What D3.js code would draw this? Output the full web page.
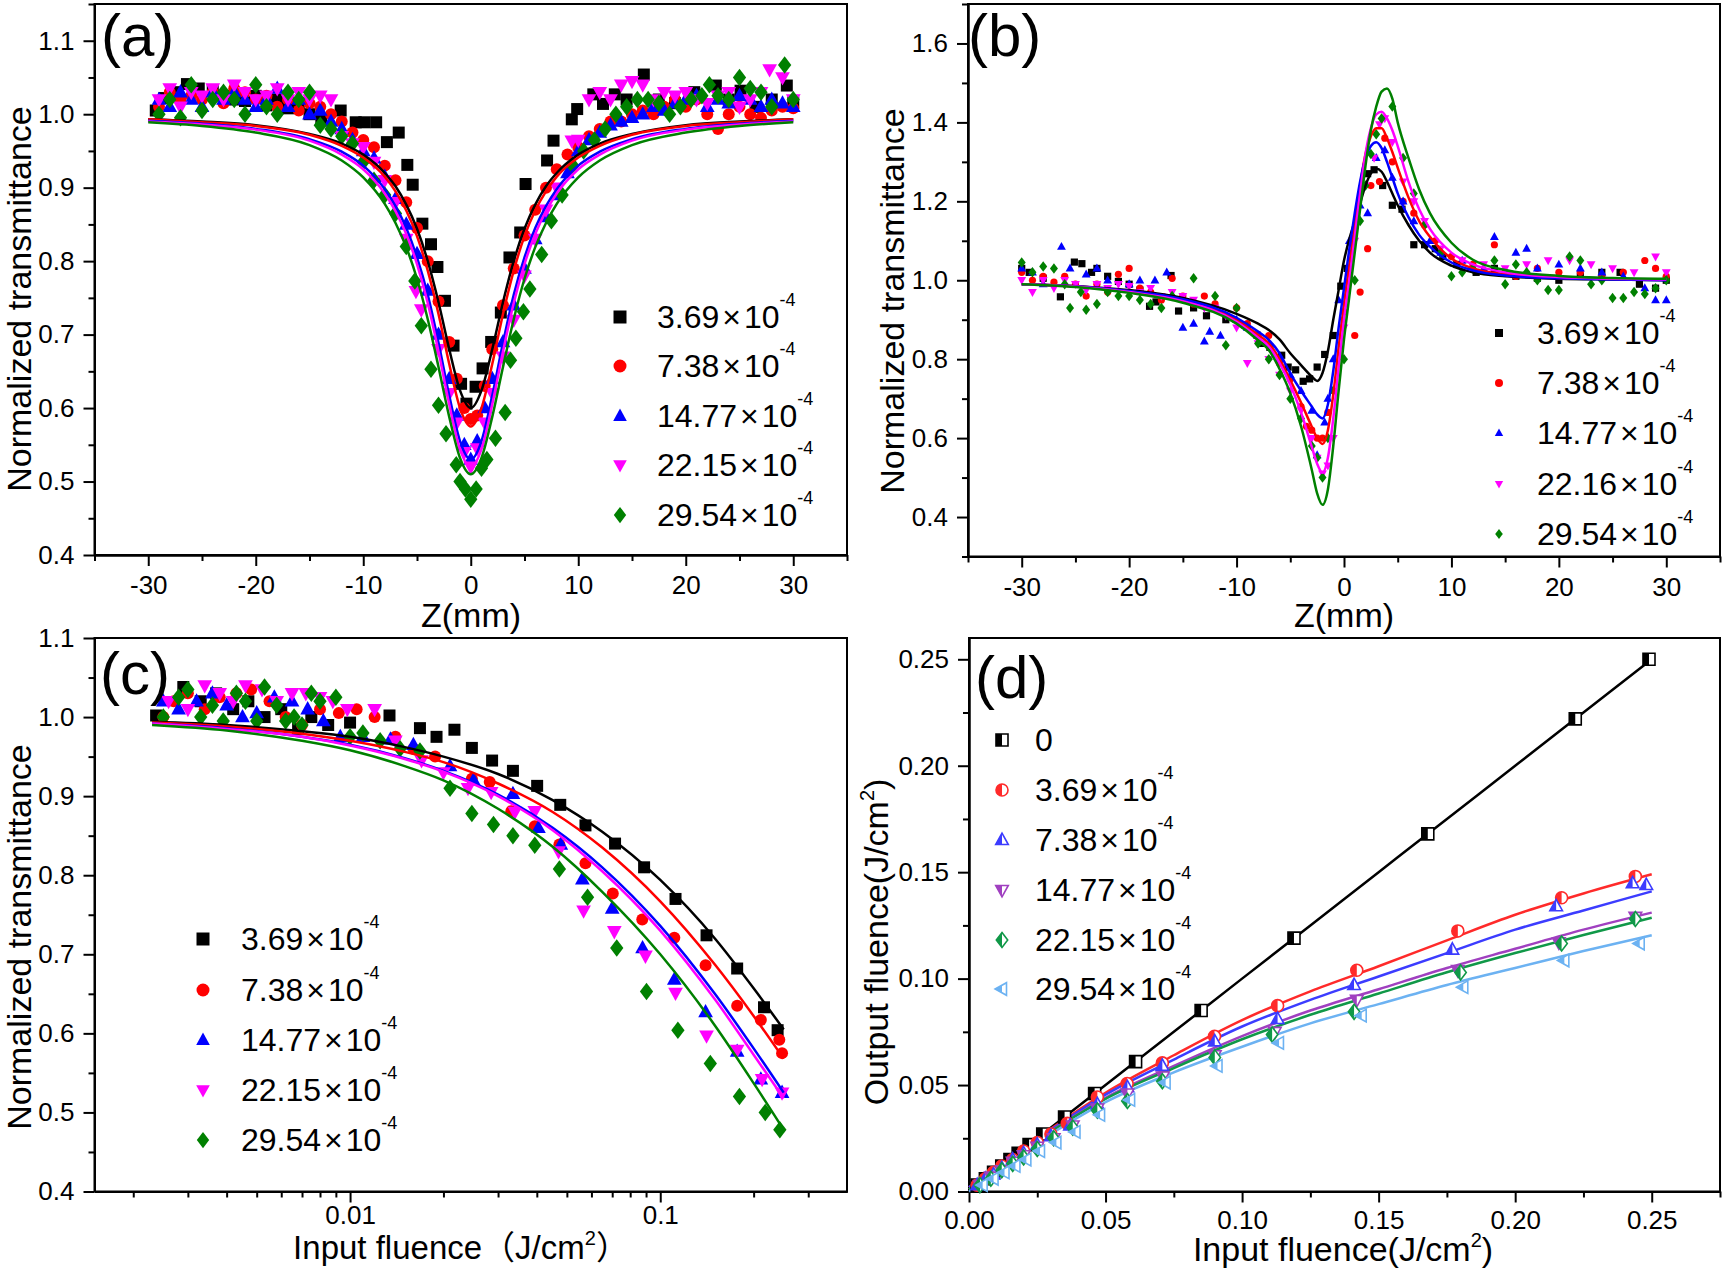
<!DOCTYPE html>
<html><head><meta charset="utf-8">
<script src="https://cdnjs.cloudflare.com/ajax/libs/d3/7.8.5/d3.min.js"></script>
<style>body{margin:0;background:#fff}svg{display:block}</style>
</head><body>
<script>
// ================= DATA =================
const labelsA = ["3.69","7.38","14.77","22.15","29.54"];
const labelsB = ["3.69","7.38","14.77","22.16","29.54"];
const labelsC = ["3.69","7.38","14.77","22.15","29.54"];
const labelsD = ["0","3.69","7.38","14.77","22.15","29.54"];

// Panel (a): open aperture Z-scan, [z(mm), T]
const aBlack = [[-29.3,1.005],[-28.5,1.022],[-27.5,1.03],[-26.4,1.041],[-25.3,1.035],[-24,1.032],[-23,1.025],[-22,1.02],[-21,1.018],[-20,1.025],[-19,1.012],[-18,1.02],[-17,1.008],[-16,1.015],[-15,1.0],[-13.9,0.993],[-12.1,1.005],[-10.7,0.989],[-9.9,0.989],[-8.8,0.989],[-7.8,0.962],[-6.7,0.975],[-5.9,0.931],[-5.4,0.904],[-4.5,0.851],[-3.7,0.823],[-3.1,0.792],[-2.4,0.746],[-1.6,0.685],[-0.9,0.633],[-0.4,0.606],[0.45,0.629],[1.1,0.654],[1.9,0.69],[2.8,0.73],[3.6,0.805],[4.6,0.839],[5.1,0.905],[7.1,0.937],[7.7,0.964],[9.4,0.993],[9.9,1.007],[11.4,1.027],[12.3,1.014],[13.4,1.027],[14.5,1.02],[16.1,1.054],[17.5,1.02],[19,1.015],[20.8,1.03],[22.8,1.039],[24,1.02],[25.1,1.032],[26.5,1.01],[28,1.02],[29.4,1.039],[30,1.016]];
const aRed = [[-29,1.01],[-28,1.03],[-27,1.02],[-26,1.025],[-25,1.02],[-24,1.03],[-23,1.015],[-22,1.035],[-21,1.03],[-20,1.02],[-19,1.025],[-18,1.01],[-17,1.02],[-16,1.005],[-15,1.015],[-14,1.01],[-13,1.0],[-12,0.99],[-11,0.975],[-10,0.965],[-9,0.955],[-8,0.93],[-7,0.91],[-6,0.88],[-5,0.845],[-4,0.8],[-3,0.745],[-2,0.69],[-1.3,0.64],[-0.6,0.6],[0,0.585],[0.6,0.59],[1.3,0.63],[2,0.68],[3,0.74],[4,0.79],[5,0.835],[6,0.87],[7,0.9],[8,0.925],[9,0.945],[10,0.955],[11,0.97],[12,0.98],[13,0.99],[14,0.99],[15,1.0],[16,1.005],[17,1.0],[18,1.01],[19,1.02],[20,1.01],[21,1.02],[22,1.0],[23,0.98],[24,1.0],[25,1.01],[26,1.0],[27,0.995],[28,1.005],[29,1.01],[30,1.008]];
const aBlue = [[-29,1.02],[-28,1.01],[-27,1.03],[-26,1.02],[-25,1.01],[-24,1.03],[-23,1.02],[-22,1.03],[-21,1.02],[-20,1.01],[-19,1.02],[-18,1.035],[-17,1.01],[-16,1.02],[-15,1.0],[-14,1.005],[-13,0.99],[-12,0.98],[-11,0.965],[-10,0.95],[-9,0.94],[-8,0.915],[-7,0.885],[-6,0.85],[-5,0.81],[-4,0.76],[-3,0.7],[-2,0.64],[-1.3,0.59],[-0.6,0.55],[0,0.53],[0.6,0.555],[1.3,0.6],[2,0.64],[3,0.69],[4,0.74],[5,0.79],[6,0.83],[7,0.86],[8,0.89],[9,0.92],[10,0.95],[11,0.965],[12,0.975],[13,0.985],[14,0.99],[15,0.995],[16,1.0],[17,1.01],[18,1.005],[19,1.015],[20,1.02],[21,1.025],[22,1.01],[23,1.02],[24,1.015],[25,1.025],[26,1.02],[27,1.01],[28,1.02],[29,1.015],[30,1.01]];
const aMagenta = [[-29,1.02],[-28,1.035],[-27,1.01],[-26,1.03],[-25,1.025],[-24,1.035],[-23,1.02],[-22,1.04],[-21,1.03],[-20,1.02],[-19,1.025],[-18,1.035],[-17,1.02],[-16,1.03],[-15,1.02],[-14,1.025],[-13,1.02],[-12,0.97],[-11,0.96],[-10,0.955],[-9,0.935],[-8,0.91],[-7,0.88],[-6,0.83],[-5.1,0.759],[-4.6,0.734],[-3,0.68],[-2,0.62],[-1.3,0.58],[-0.6,0.54],[0,0.52],[0.6,0.545],[1.3,0.58],[2,0.62],[3,0.67],[4,0.72],[5,0.78],[6,0.83],[7,0.87],[8,0.9],[9.4,0.964],[10,0.965],[11,1.02],[12,1.03],[13,1.02],[14,1.04],[15,1.045],[16,1.04],[17,1.02],[18,1.03],[19,1.025],[20,1.03],[21,1.02],[22,1.015],[23,1.025],[24,1.03],[25,1.01],[26,1.02],[27,1.03],[27.8,1.061],[29,1.05],[30,1.02]];
const aGreen = [[-29,1.0],[-28,1.02],[-27,0.995],[-26,1.04],[-25,1.005],[-24,1.02],[-23,1.03],[-22,1.02],[-21,1.0],[-20,1.04],[-19,1.01],[-18,1.0],[-17,1.03],[-16,1.02],[-15,1.03],[-14,0.985],[-13,0.98],[-12,0.97],[-11,0.96],[-10,0.935],[-9,0.91],[-8,0.89],[-7,0.865],[-6,0.82],[-5.2,0.773],[-4.6,0.712],[-3.7,0.653],[-3,0.604],[-2.3,0.565],[-1.35,0.523],[-1,0.5],[-0.5,0.49],[0,0.476],[0.5,0.49],[1,0.518],[1.5,0.53],[2.3,0.559],[3.2,0.594],[3.7,0.665],[4.2,0.695],[4.9,0.731],[5.5,0.762],[6.6,0.809],[7.5,0.855],[8.5,0.89],[9.5,0.93],[10.5,0.95],[11.5,0.965],[12.5,0.98],[13.5,1.0],[14.5,1.01],[15.5,1.02],[16.5,1.02],[17.5,1.015],[18.5,1.0],[19.5,1.01],[20.5,1.02],[21.5,1.025],[22.2,1.04],[23,1.025],[24,1.02],[25,1.05],[26,1.035],[27,1.03],[28,1.01],[29.2,1.067],[30,1.02]];
const aFitZ = [-30,-25,-20,-15,-12,-10,-8,-7,-6,-5,-4,-3,-2,-1,0,1,2,3,4,5,6,7,8,10,12,15,20,25,30];
const aFitBlack = [0.993,0.990,0.985,0.973,0.960,0.945,0.920,0.902,0.877,0.844,0.800,0.744,0.680,0.624,0.600,0.624,0.680,0.744,0.800,0.844,0.877,0.902,0.920,0.945,0.960,0.973,0.985,0.990,0.993];
const aFitRed = [0.993,0.989,0.984,0.972,0.957,0.941,0.915,0.895,0.869,0.834,0.787,0.728,0.660,0.600,0.575,0.600,0.660,0.728,0.787,0.834,0.869,0.895,0.915,0.941,0.957,0.972,0.984,0.989,0.993];
const aFitBlue = [0.991,0.987,0.980,0.966,0.949,0.930,0.898,0.875,0.845,0.805,0.754,0.689,0.617,0.555,0.530,0.555,0.617,0.689,0.754,0.805,0.845,0.875,0.898,0.930,0.949,0.966,0.980,0.987,0.991];
const aFitMagenta = [0.990,0.986,0.979,0.964,0.945,0.925,0.892,0.868,0.837,0.796,0.743,0.677,0.605,0.544,0.520,0.544,0.605,0.677,0.743,0.796,0.837,0.868,0.892,0.925,0.945,0.964,0.979,0.986,0.990];
const aFitGreen = [0.989,0.984,0.975,0.958,0.937,0.914,0.878,0.852,0.819,0.776,0.721,0.656,0.588,0.532,0.510,0.532,0.588,0.656,0.721,0.776,0.819,0.852,0.878,0.914,0.937,0.958,0.975,0.984,0.989];

// Panel (b): closed aperture Z-scan, [z(mm), T]
const bBlack = [[-30,1.03],[-29.3,1.02],[-28,1.005],[-26.4,0.958],[-25.1,1.046],[-24.4,1.042],[-23.5,1.02],[-23,1.03],[-22,1.01],[-21,0.997],[-20,0.99],[-19,0.975],[-18.1,0.934],[-17.5,0.945],[-16.1,1.012],[-15.4,0.922],[-14,0.93],[-12.8,0.91],[-11,0.9],[-9.2,0.886],[-8.1,0.861],[-7.6,0.84],[-6.9,0.83],[-5.8,0.81],[-5.2,0.78],[-4.5,0.773],[-3.8,0.744],[-3.2,0.75],[-2.5,0.78],[-1.8,0.812],[-1,0.86],[-0.3,0.985],[0.3,1.03],[2.2,1.27],[2.8,1.28],[3.6,1.24],[4.5,1.19],[5.4,1.18],[6.5,1.09],[7.5,1.09],[8.5,1.08],[9.2,1.06],[10.5,1.04],[12.3,1.02],[14,1.03],[16,1.01],[18,1.005],[20,1.0],[22,1.01],[24,1.02],[25.7,1.02],[27.5,0.99],[29,0.98],[30,1.0]];
const bRed = [[-30,1.02],[-29,1.0],[-28,1.01],[-27,0.995],[-26,1.01],[-25,0.99],[-24,0.96],[-23,0.99],[-22,0.97],[-21,1.015],[-20,1.03],[-19,0.98],[-18,0.97],[-17,0.95],[-16,1.005],[-15,0.96],[-14,0.94],[-13,0.96],[-12,0.94],[-10,0.93],[-9,0.89],[-8,0.86],[-7,0.86],[-6,0.79],[-5,0.75],[-4,0.68],[-3.5,0.63],[-3,0.62],[-2.5,0.6],[-2,0.6],[-1.5,0.665],[-1,0.72],[0,0.92],[1,0.86],[1.5,0.97],[2.2,1.08],[2.5,1.24],[3.3,1.25],[3.8,1.36],[4.5,1.3],[5.5,1.2],[6.5,1.17],[7.5,1.14],[8.5,1.1],[10,1.06],[12,1.04],[14,1.09],[15,1.02],[16,1.01],[18,1.03],[20,1.02],[22,1.02],[24,1.01],[26,1.02],[28,1.05],[29,1.03],[30,1.01]];
const bBlue = [[-30,1.03],[-29,1.02],[-28,0.99],[-26.3,1.085],[-25.5,1.03],[-24,1.015],[-23,1.03],[-22,1.0],[-20,0.99],[-19,1.0],[-17.6,1.0],[-16.5,1.02],[-15,0.88],[-14,0.89],[-13,0.845],[-12.5,0.87],[-11.5,0.86],[-10,0.9],[-9,0.88],[-8,0.86],[-7,0.84],[-6,0.8],[-5,0.76],[-4,0.72],[-3,0.67],[-2.5,0.557],[-1.8,0.64],[-1.5,0.7],[-1,0.8],[-0.5,0.95],[0.5,1.1],[1.5,1.19],[2.2,1.17],[3,1.31],[3.8,1.33],[4.5,1.26],[5.5,1.2],[6.5,1.15],[8,1.1],[9,1.07],[11,1.05],[13,1.03],[14,1.11],[15,1.02],[16,1.07],[17,1.08],[18,1.03],[20,1.04],[22,1.03],[24,1.02],[26,1.01],[28,0.98],[29,0.95],[30,0.95]];
const bMagenta = [[-30,1.0],[-29,0.97],[-28,1.0],[-27,0.98],[-26,1.0],[-25,0.99],[-24,0.975],[-23,0.99],[-22,0.98],[-21,0.99],[-20,0.985],[-19,0.97],[-18,0.98],[-17,0.96],[-16,0.97],[-15,0.96],[-14,0.95],[-13,0.93],[-12,0.93],[-11,0.91],[-10,0.88],[-9,0.79],[-8,0.84],[-7,0.8],[-6,0.76],[-5,0.72],[-4,0.67],[-3,0.6],[-2.5,0.55],[-2,0.51],[-1.5,0.53],[-1,0.6],[0,0.88],[1,1.1],[2,1.24],[2.8,1.31],[3.3,1.395],[3.8,1.41],[4.5,1.35],[5.5,1.25],[6.5,1.2],[7.5,1.15],[9,1.08],[11,1.05],[13,1.04],[15,1.03],[17,1.04],[19,1.05],[21,1.05],[23,1.04],[25,1.03],[27,1.02],[29,1.06],[30,1.02]];
const bGreen = [[-30,1.045],[-29,1.02],[-28,1.035],[-27,1.03],[-26,0.99],[-25.5,0.93],[-24.5,0.97],[-24,0.925],[-23,0.94],[-22,0.97],[-21,0.96],[-20,0.96],[-19,0.95],[-18,0.94],[-17,0.93],[-16,0.96],[-14,1.005],[-12,0.96],[-11,0.835],[-10,0.93],[-9,0.88],[-8,0.84],[-7,0.8],[-6,0.76],[-5,0.7],[-4,0.65],[-3,0.58],[-2.5,0.55],[-2,0.5],[-1.5,0.6],[-1,0.72],[0,0.8],[1,1.0],[1.5,1.15],[2,1.24],[2.5,1.32],[3,1.37],[3.5,1.41],[4.5,1.44],[5.5,1.31],[6.5,1.22],[7.5,1.14],[9,1.07],[10,1.01],[11,1.02],[12,1.03],[14,1.05],[15,0.99],[16,1.04],[17,1.02],[18,1.0],[19,0.975],[20,0.975],[21,1.06],[22,1.05],[23,0.99],[24,1.0],[25,0.955],[26,0.955],[27,0.97],[28,0.965],[29,0.98],[30,1.0]];
const bFitZ = [-30,-25,-20,-15,-10,-8,-7,-6,-5,-4,-3,-2.5,-2,-1.5,-1,-0.5,0,0.5,1,1.5,2,2.5,3,3.5,4,4.5,5,6,7,8,10,12,15,20,25,30];
const bFitBlack = [0.990,0.985,0.975,0.955,0.915,0.890,0.874,0.850,0.815,0.785,0.756,0.745,0.765,0.820,0.900,0.975,1.050,1.105,1.150,1.195,1.240,1.270,1.283,1.275,1.250,1.220,1.190,1.140,1.100,1.070,1.037,1.020,1.010,1.004,1.002,1.000];
const bFitRed = [0.990,0.985,0.972,0.950,0.900,0.862,0.840,0.800,0.747,0.690,0.629,0.600,0.585,0.620,0.710,0.830,0.940,1.040,1.140,1.240,1.320,1.365,1.385,1.385,1.360,1.325,1.285,1.210,1.150,1.110,1.055,1.030,1.015,1.006,1.003,1.001];
const bFitBlue = [0.990,0.985,0.973,0.952,0.905,0.870,0.849,0.815,0.764,0.720,0.680,0.660,0.650,0.685,0.770,0.880,0.980,1.080,1.170,1.250,1.310,1.340,1.350,1.335,1.300,1.260,1.220,1.160,1.115,1.085,1.045,1.025,1.012,1.005,1.002,1.000];
const bFitMagenta = [0.990,0.984,0.970,0.947,0.895,0.855,0.832,0.790,0.735,0.665,0.578,0.535,0.512,0.550,0.650,0.780,0.900,1.000,1.110,1.220,1.320,1.385,1.420,1.427,1.410,1.380,1.340,1.250,1.180,1.130,1.070,1.040,1.020,1.008,1.004,1.002];
const bFitGreen = [0.990,0.983,0.968,0.943,0.890,0.848,0.823,0.775,0.714,0.630,0.520,0.460,0.431,0.470,0.580,0.720,0.850,0.960,1.070,1.180,1.290,1.380,1.440,1.478,1.486,1.460,1.400,1.310,1.230,1.170,1.095,1.052,1.026,1.011,1.006,1.004];

// Panel (c): T vs input fluence (J/cm2), [F, T]
const cBlack = [[0.00237,1.002],[0.0029,1.038],[0.0033,1.02],[0.0037,1.03],[0.0042,1.01],[0.0047,1.02],[0.0053,1.0],[0.006,1.01],[0.0068,0.985],[0.0075,1.0],[0.0085,0.99],[0.01,0.993],[0.0134,1.002],[0.0168,0.986],[0.019,0.975],[0.0217,0.984],[0.0247,0.961],[0.0287,0.945],[0.0335,0.932],[0.0401,0.913],[0.0476,0.889],[0.0574,0.863],[0.0715,0.84],[0.0887,0.81],[0.112,0.77],[0.141,0.724],[0.177,0.682],[0.216,0.633],[0.239,0.604]];
const cRed = [[0.0025,1.0],[0.0027,1.02],[0.003,1.03],[0.0034,1.01],[0.0038,1.025],[0.0043,1.03],[0.0048,1.035],[0.0055,1.02],[0.0062,1.0],[0.007,0.99],[0.008,1.01],[0.0092,1.005],[0.0105,1.01],[0.012,1.0],[0.014,0.975],[0.016,0.96],[0.0188,0.95],[0.0247,0.922],[0.0282,0.918],[0.0331,0.881],[0.0394,0.862],[0.0473,0.839],[0.0574,0.815],[0.0703,0.777],[0.0875,0.744],[0.111,0.721],[0.14,0.686],[0.177,0.635],[0.211,0.617],[0.242,0.592],[0.247,0.575]];
const cBlue = [[0.0025,1.02],[0.0028,1.01],[0.0032,1.02],[0.0036,1.03],[0.004,1.015],[0.0045,1.0],[0.005,1.005],[0.0057,1.025],[0.0065,1.02],[0.0073,1.01],[0.0082,0.995],[0.0093,0.975],[0.011,0.975],[0.0135,0.972],[0.016,0.965],[0.021,0.938],[0.025,0.92],[0.0335,0.903],[0.0405,0.86],[0.0478,0.839],[0.0561,0.795],[0.07,0.758],[0.0877,0.708],[0.111,0.668],[0.14,0.627],[0.177,0.577],[0.211,0.542],[0.247,0.525]];
const cMagenta = [[0.0026,1.02],[0.003,1.01],[0.0034,1.04],[0.0038,1.03],[0.0042,1.02],[0.0046,1.04],[0.0052,1.035],[0.0058,1.02],[0.0065,1.03],[0.0072,1.03],[0.008,1.025],[0.0088,1.02],[0.0098,1.01],[0.012,1.01],[0.014,0.97],[0.017,0.945],[0.02,0.93],[0.024,0.91],[0.0285,0.905],[0.034,0.88],[0.0394,0.881],[0.047,0.83],[0.0566,0.755],[0.0711,0.729],[0.0896,0.698],[0.112,0.651],[0.141,0.597],[0.177,0.579],[0.213,0.542],[0.247,0.525]];
const cGreen = [[0.0025,1.0],[0.0028,1.025],[0.003,1.035],[0.0033,1.0],[0.0036,1.015],[0.0039,0.995],[0.0043,1.03],[0.0046,1.02],[0.005,0.995],[0.0053,1.038],[0.0058,1.015],[0.0062,0.995],[0.0066,1.0],[0.007,0.99],[0.0075,1.03],[0.008,1.02],[0.009,1.025],[0.01,0.975],[0.011,0.98],[0.0125,0.97],[0.0145,0.96],[0.0168,0.957],[0.021,0.91],[0.0247,0.878],[0.029,0.864],[0.0335,0.85],[0.0394,0.838],[0.0473,0.808],[0.0583,0.772],[0.0724,0.708],[0.0903,0.653],[0.114,0.604],[0.145,0.562],[0.18,0.52],[0.218,0.5],[0.243,0.478]];
const cFitF = [0.0023,0.004,0.007,0.01,0.015,0.02,0.03,0.045,0.065,0.1,0.15,0.2,0.25];
const cFitBlack = [0.994,0.990,0.982,0.975,0.962,0.950,0.928,0.895,0.855,0.794,0.720,0.657,0.605];
const cFitRed = [0.993,0.988,0.979,0.970,0.956,0.943,0.916,0.880,0.835,0.767,0.687,0.622,0.568];
const cFitBlue = [0.992,0.986,0.975,0.965,0.948,0.932,0.902,0.860,0.810,0.736,0.650,0.581,0.525];
const cFitMagenta = [0.992,0.985,0.975,0.964,0.947,0.931,0.900,0.857,0.805,0.730,0.643,0.573,0.518];
const cFitGreen = [0.990,0.983,0.970,0.958,0.938,0.920,0.884,0.836,0.779,0.700,0.610,0.537,0.478];

// Panel (d): output vs input fluence (J/cm2), [Fin, Fout]
const dBlack = [[0.003,0.003],[0.006,0.006],[0.009,0.009],[0.012,0.012],[0.015,0.015],[0.018,0.018],[0.022,0.022],[0.027,0.027],[0.035,0.035],[0.046,0.046],[0.061,0.061],[0.085,0.085],[0.119,0.119],[0.168,0.168],[0.222,0.222],[0.249,0.25]];
const dRed = [[0.003,0.003],[0.006,0.006],[0.009,0.009],[0.012,0.012],[0.016,0.015],[0.02,0.019],[0.025,0.023],[0.03,0.027],[0.036,0.032],[0.047,0.0444],[0.0579,0.0507],[0.0708,0.0604],[0.0899,0.0729],[0.113,0.0873],[0.142,0.1039],[0.179,0.1224],[0.217,0.138],[0.244,0.148]];
const dBlue = [[0.003,0.003],[0.006,0.006],[0.009,0.008],[0.012,0.011],[0.016,0.015],[0.02,0.018],[0.025,0.022],[0.03,0.026],[0.037,0.031],[0.047,0.041],[0.058,0.049],[0.0708,0.059],[0.09,0.0705],[0.113,0.081],[0.141,0.097],[0.177,0.1136],[0.215,0.134],[0.243,0.1448],[0.248,0.144]];
const dPurple = [[0.004,0.003],[0.008,0.007],[0.012,0.01],[0.016,0.014],[0.02,0.017],[0.025,0.021],[0.031,0.025],[0.038,0.031],[0.047,0.039],[0.058,0.046],[0.071,0.054],[0.09,0.064],[0.112,0.075],[0.142,0.09],[0.179,0.104],[0.216,0.117],[0.244,0.129]];
const dGreen = [[0.004,0.003],[0.008,0.006],[0.012,0.01],[0.016,0.013],[0.02,0.016],[0.025,0.02],[0.031,0.025],[0.038,0.03],[0.047,0.038],[0.058,0.0425],[0.0708,0.0518],[0.09,0.063],[0.111,0.0737],[0.141,0.0844],[0.18,0.1029],[0.217,0.1165],[0.244,0.128]];
const dLightBlue = [[0.005,0.003],[0.009,0.006],[0.013,0.009],[0.017,0.012],[0.021,0.015],[0.026,0.019],[0.032,0.023],[0.039,0.028],[0.048,0.036],[0.059,0.043],[0.072,0.0512],[0.091,0.059],[0.1135,0.0698],[0.1438,0.0826],[0.181,0.096],[0.218,0.1085],[0.2456,0.1165]];
const dFitF = [0,0.01,0.025,0.05,0.075,0.1,0.125,0.15,0.175,0.2,0.225,0.25];
const dFitBlack = [0,0.01,0.025,0.05,0.075,0.1,0.125,0.15,0.175,0.2,0.225,0.25];
const dFitRed = [0.002,0.011,0.025,0.0464,0.064,0.0805,0.094,0.1058,0.118,0.130,0.140,0.149];
const dFitBlue = [0.002,0.011,0.0245,0.0455,0.062,0.0775,0.090,0.101,0.112,0.123,0.132,0.141];
const dFitPurple = [0.001,0.010,0.024,0.044,0.059,0.073,0.085,0.095,0.105,0.114,0.123,0.131];
const dFitGreen = [0.001,0.010,0.0238,0.0435,0.058,0.0715,0.083,0.093,0.103,0.112,0.1205,0.1286];
const dFitLightBlue = [0.0,0.009,0.0228,0.042,0.056,0.068,0.079,0.088,0.097,0.105,0.113,0.1204];

// ================= STYLE / LAYOUT =================
const colABC = ["#000000","#ff0000","#0000ff","#ff00ff","#008000"];
const colD = ["#000000","#ff2a2a","#3c3cff","#a040c0","#109848","#6cb2f2"];
const FONT = "'Liberation Sans', Arial, 'Noto Sans CJK SC', sans-serif";
const W = 1725, H = 1270;
const svg = d3.select("body").append("svg").attr("width", W).attr("height", H)
  .style("font-family", FONT);
svg.append("defs").append("clipPath").attr("id","lefthalf")
  .append("rect").attr("x",-30).attr("y",-30).attr("width",30).attr("height",60);

const F = {
  a:{l:94.5,r:847,t:4,b:555},
  b:{l:968,r:1720,t:4,b:556.5},
  c:{l:94.5,r:847,t:638,b:1191.5},
  d:{l:969,r:1720,t:638,b:1191.5}
};

function shapePath(type, r){
  switch(type){
    case "square": return `M${-r},${-r}H${r}V${r}H${-r}Z`;
    case "circle": return `M${-r},0A${r},${r} 0 1,0 ${r},0A${r},${r} 0 1,0 ${-r},0Z`;
    case "up": return `M0,${-r*1.15}L${r*1.05},${r*0.75}L${-r*1.05},${r*0.75}Z`;
    case "down": return `M0,${r*1.15}L${r*1.05},${-r*0.75}L${-r*1.05},${-r*0.75}Z`;
    case "diamond": return `M0,${-r*1.25}L${r*0.95},0L0,${r*1.25}L${-r*0.95},0Z`;
    case "left": return `M${-r*1.15},0L${r*0.75},${-r*1.05}L${r*0.75},${r*1.05}Z`;
  }
}
const shapesABC = ["square","circle","up","down","diamond"];
const shapesD = ["square","circle","up","down","diamond","left"];

function marker(g, type, r, color, x, y, half){
  if(!half){
    g.append("path").attr("d", shapePath(type,r)).attr("transform",`translate(${x},${y})`)
     .attr("fill", color).attr("stroke","none");
  } else {
    g.append("path").attr("d", shapePath(type,r)).attr("transform",`translate(${x},${y})`)
     .attr("fill","#fff").attr("stroke",color).attr("stroke-width",1.6);
    g.append("path").attr("d", shapePath(type,r)).attr("transform",`translate(${x},${y})`)
     .attr("fill",color).attr("clip-path","url(#lefthalf)");
  }
}

function axes(f, x, y, o){
  const gxMin = svg.append("g").attr("transform",`translate(0,${f.b})`)
    .call(d3.axisBottom(x).tickValues(o.xMinor).tickSize(6).tickSizeOuter(0).tickFormat(""));
  const gx = svg.append("g").attr("transform",`translate(0,${f.b})`)
    .call(d3.axisBottom(x).tickValues(o.xMajor).tickSize(11).tickSizeOuter(0).tickPadding(o.xPad).tickFormat(o.xFmt));
  const gyMin = svg.append("g").attr("transform",`translate(${f.l},0)`)
    .call(d3.axisLeft(y).tickValues(o.yMinor).tickSize(6).tickSizeOuter(0).tickFormat(""));
  const gy = svg.append("g").attr("transform",`translate(${f.l},0)`)
    .call(d3.axisLeft(y).tickValues(o.yMajor).tickSize(11).tickSizeOuter(0).tickPadding(9).tickFormat(o.yFmt));
  [gxMin,gx,gyMin,gy].forEach(g=>{
    g.attr("font-family",FONT).attr("font-size",26);
    g.selectAll("path.domain").attr("stroke","#000").attr("stroke-width",2);
    g.selectAll(".tick line").attr("stroke","#000").attr("stroke-width",2);
    g.selectAll(".tick text").attr("fill","#000");
  });
  svg.append("rect").attr("x",f.l).attr("y",f.t).attr("width",f.r-f.l).attr("height",f.b-f.t)
    .attr("fill","none").attr("stroke","#000").attr("stroke-width",2);
}

function fitLine(g, xs, ys, x, y, color, w){
  const pts = xs.map((v,i)=>[v, ys[i]]);
  g.append("path").datum(pts)
    .attr("d", d3.line().x(d=>x(d[0])).y(d=>y(d[1])).curve(d3.curveMonotoneX))
    .attr("fill","none").attr("stroke",color).attr("stroke-width",w).attr("stroke-linejoin","round");
}

function legend(labels, colors, shapes, r, mx, tx, rows, half){
  labels.forEach((lab,i)=>{
    marker(svg, shapes[i], r, colors[i], mx, rows[i], half);
    const t = svg.append("text").attr("x",tx).attr("y",rows[i]+11).attr("font-size",32).attr("fill","#000");
    if(lab === "0"){ t.text("0"); return; }
    t.append("tspan").text(lab);
    t.append("tspan").attr("dx",3).text("\u00d7");
    t.append("tspan").attr("dx",3).text("10");
    t.append("tspan").attr("font-size",18).attr("dy",-22).text("-4");
  });
}

function panelLabel(s, x, y){
  svg.append("text").attr("x",x).attr("y",y).attr("font-size",60).attr("fill","#000").text(s);
}

const fmtStr = d => String(d);

// ================= PANEL A =================
{
  const f = F.a;
  const x = d3.scaleLinear().domain([-35,35]).range([f.l,f.r]);
  const y = d3.scaleLinear().domain([0.4,1.15]).range([f.b,f.t]);
  axes(f,x,y,{xMajor:[-30,-20,-10,0,10,20,30], xMinor:[-35,-25,-15,-5,5,15,25,35], xFmt:fmtStr, xPad:10,
    yMajor:d3.range(0.4,1.1001,0.1), yMinor:d3.range(0.45,1.151,0.1), yFmt:d3.format(".1f")});
  const g = svg.append("g");
  const sets = [aBlack,aRed,aBlue,aMagenta,aGreen];
  const rs = [6,6,7,7,7];
  sets.forEach((s,i)=> s.forEach(d=> marker(g, shapesABC[i], rs[i], colABC[i], x(d[0]), y(d[1]))));
  [aFitBlack,aFitRed,aFitBlue,aFitMagenta,aFitGreen].forEach((fy,i)=> fitLine(g, aFitZ, fy, x, y, colABC[i], 2.5));
  legend(labelsA, colABC, shapesABC, 6.5, 620, 657, [317,366,416,465,515], false);
  panelLabel("(a)", 101, 56);
  svg.append("text").attr("x",471).attr("y",627).attr("text-anchor","middle").attr("font-size",34).text("Z(mm)");
  svg.append("text").attr("transform","translate(30.5,299) rotate(-90)").attr("text-anchor","middle").attr("font-size",34).text("Normalized transmittance");
}

// ================= PANEL B =================
{
  const f = F.b;
  const x = d3.scaleLinear().domain([-35,35]).range([f.l,f.r]);
  const y = d3.scaleLinear().domain([0.3,1.7]).range([f.b,f.t]);
  axes(f,x,y,{xMajor:[-30,-20,-10,0,10,20,30], xMinor:[-35,-25,-15,-5,5,15,25,35], xFmt:fmtStr, xPad:10,
    yMajor:d3.range(0.4,1.6001,0.2), yMinor:d3.range(0.3,1.7001,0.2), yFmt:d3.format(".1f")});
  const g = svg.append("g");
  const sets = [bBlack,bRed,bBlue,bMagenta,bGreen];
  const rs = [3.6,3.6,4.2,4.2,4.2];
  sets.forEach((s,i)=> s.forEach(d=> marker(g, shapesABC[i], rs[i], colABC[i], x(d[0]), y(d[1]))));
  [bFitBlack,bFitRed,bFitBlue,bFitMagenta,bFitGreen].forEach((fy,i)=> fitLine(g, bFitZ, fy, x, y, colABC[i], 2.5));
  legend(labelsB, colABC, shapesABC, 4, 1499, 1537, [333,383,433,484,534], false);
  panelLabel("(b)", 968, 56);
  svg.append("text").attr("x",1344).attr("y",627).attr("text-anchor","middle").attr("font-size",34).text("Z(mm)");
  svg.append("text").attr("transform","translate(904,301) rotate(-90)").attr("text-anchor","middle").attr("font-size",34).text("Normalized transmittance");
}

// ================= PANEL C =================
{
  const f = F.c;
  const x = d3.scaleLog().domain([0.0015,0.4]).range([f.l,f.r]);
  const y = d3.scaleLinear().domain([0.4,1.1]).range([f.b,f.t]);
  const minors = [0.002,0.003,0.004,0.005,0.006,0.007,0.008,0.009,0.02,0.03,0.04,0.05,0.06,0.07,0.08,0.09,0.2,0.3];
  axes(f,x,y,{xMajor:[0.01,0.1], xMinor:minors, xFmt:fmtStr, xPad:3,
    yMajor:d3.range(0.4,1.1001,0.1), yMinor:d3.range(0.45,1.1,0.1), yFmt:d3.format(".1f")});
  const g = svg.append("g");
  const sets = [cBlack,cRed,cBlue,cMagenta,cGreen];
  const rs = [6,6,7,7,7];
  sets.forEach((s,i)=> s.forEach(d=> marker(g, shapesABC[i], rs[i], colABC[i], x(d[0]), y(d[1]))));
  [cFitBlack,cFitRed,cFitBlue,cFitMagenta,cFitGreen].forEach((fy,i)=> fitLine(g, cFitF, fy, x, y, colABC[i], 2.5));
  legend(labelsC, colABC, shapesABC, 6.5, 203, 241, [939,990,1040,1090,1140], false);
  panelLabel("(c)", 100, 694);
  const t = svg.append("text").attr("x",461).attr("y",1259).attr("text-anchor","middle").attr("font-size",33);
  t.append("tspan").text("Input fluence\uff08J/cm");
  t.append("tspan").attr("font-size",20).attr("dy",-14).text("2");
  t.append("tspan").attr("dy",14).text("\uff09");
  svg.append("text").attr("transform","translate(30.5,937) rotate(-90)").attr("text-anchor","middle").attr("font-size",34).text("Normalized transmittance");
}

// ================= PANEL D =================
{
  const f = F.d;
  const x = d3.scaleLinear().domain([0,0.275]).range([f.l,f.r]);
  const y = d3.scaleLinear().domain([0,0.26]).range([f.b,f.t]);
  axes(f,x,y,{xMajor:d3.range(0,0.2501,0.05), xMinor:d3.range(0.025,0.276,0.05), xFmt:d3.format(".2f"), xPad:8,
    yMajor:d3.range(0,0.2501,0.05), yMinor:d3.range(0.025,0.26,0.05), yFmt:d3.format(".2f")});
  const g = svg.append("g");
  [dFitBlack,dFitRed,dFitBlue,dFitPurple,dFitGreen,dFitLightBlue].forEach((fy,i)=> fitLine(g, dFitF, fy, x, y, colD[i], 2.5));
  const sets = [dBlack,dRed,dBlue,dPurple,dGreen,dLightBlue];
  sets.forEach((s,i)=> s.forEach(d=> marker(g, shapesD[i], 6, colD[i], x(d[0]), y(d[1]), true)));
  legend(labelsD, colD, shapesD, 6, 1002, 1035, [740,790,840,890,940,989], true);
  panelLabel("(d)", 975, 698);
  const t = svg.append("text").attr("x",1343).attr("y",1261).attr("text-anchor","middle").attr("font-size",34);
  t.append("tspan").text("Input fluence(J/cm");
  t.append("tspan").attr("font-size",20).attr("dy",-14).text("2");
  t.append("tspan").attr("dy",14).text(")");
  const t2 = svg.append("text").attr("transform","translate(888,942) rotate(-90)").attr("text-anchor","middle").attr("font-size",34);
  t2.append("tspan").text("Output fluence(J/cm");
  t2.append("tspan").attr("font-size",20).attr("dy",-14).text("2");
  t2.append("tspan").attr("dy",14).text(")");
}
</script>
</body></html>
